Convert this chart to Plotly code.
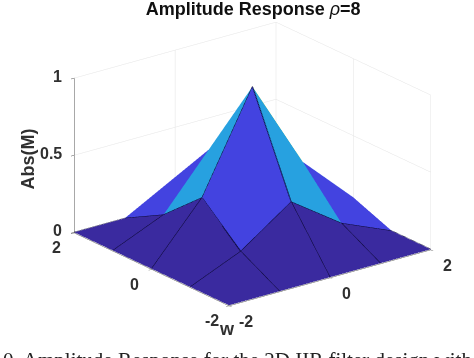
import plotly.graph_objects as go

x_values = [-2, -1, 0, 1, 2]
y_values = [-2, -1, 0, 1, 2]
# z_rows[a][b]: a indexes y, b indexes x
z_rows = [
    [0, 0, 0, 0, 0],
    [0, 0.14, 0.37, 0.14, 0],
    [0, 0.37, 1.0, 0.42, 0.10],
    [0, 0.14, 0.50, 0.14, 0.14],
    [0, 0, 0.11, 0.08, 0],
]
xy_ticks = [-2, 0, 2]
z_ticks = [0, 0.5, 1]
title_text = "<b>Amplitude Response </b><i>ρ</i><b>=8</b>"
caption = "0. Amplitude Response for the 2D IIR filter design with"
DARK, MID, LIGHT, YELLOW = "#3a2a9f", "#4343e0", "#27a1e0", "#f9fb15"
EYE_SCALE = 1.9
BOX = 1.56

def level_colour(v):
    if v < 0.05:
        return DARK
    if v < 0.2:
        return MID
    if v < 0.7:
        return LIGHT
    return YELLOW

n = len(x_values)
idx = lambda a, b: a * n + b
vx, vy, vz = [], [], []
for a in range(n):
    for b in range(n):
        vx.append(x_values[b]); vy.append(y_values[a]); vz.append(z_rows[a][b])
ii, jj, kk, fc = [], [], [], []
for a in range(n - 1):
    for b in range(n - 1):
        c = level_colour(z_rows[a][b])
        if a >= b:
            t = [(idx(a, b), idx(a + 1, b), idx(a, b + 1)), (idx(a + 1, b), idx(a + 1, b + 1), idx(a, b + 1))]
        else:
            t = [(idx(a, b), idx(a + 1, b), idx(a + 1, b + 1)), (idx(a, b), idx(a + 1, b + 1), idx(a, b + 1))]
        for p, q, r in t:
            ii.append(p); jj.append(q); kk.append(r); fc.append(c)

edges = [((a, 0), (a, 1)) for a in range(1, 5)] + [((0, b), (1, b)) for b in range(1, 5)]
edges += [((a, 1), (a + 1, 1)) for a in range(1, 4)] + [((1, b), (1, b + 1)) for b in range(1, 4)]
edges += [((2, 1), (2, 2)), ((1, 2), (2, 2))]
ex, ey, ez = [], [], []
for (a0, b0), (a1, b1) in edges:
    ex += [x_values[b0], x_values[b1], None]
    ey += [y_values[a0], y_values[a1], None]
    ez += [z_rows[a0][b0], z_rows[a1][b1], None]

fig = go.Figure()
fig.add_trace(go.Mesh3d(x=vx, y=vy, z=vz, i=ii, j=jj, k=kk, facecolor=fc, flatshading=True,
                        lighting=dict(ambient=1, diffuse=0, specular=0, roughness=1, fresnel=0),
                        hoverinfo="skip", showscale=False))
fig.add_trace(go.Scatter3d(x=ex, y=ey, z=ez, mode="lines", line=dict(color="#0a0833", width=2),
                           hoverinfo="skip", showlegend=False))

def axis(ticks, rng):
    return dict(range=rng, tickvals=ticks, showticklabels=False, title=dict(text=""),
                showgrid=True, gridcolor="#e4e4e4", gridwidth=1, showline=True, linecolor="#505050",
                linewidth=1, ticks="outside", ticklen=4, tickcolor="#505050", zeroline=False,
                showbackground=False, showspikes=False, mirror=False)

tick_font = dict(family="Liberation Sans", size=16, color="#303030")
w_font = dict(family="Liberation Sans", size=18, color="#303030")
label_font = dict(family="Liberation Sans", size=18, color="#303030")
def note(x, y, z, text, dx, dy, font=tick_font, angle=0, anchor="center"):
    return dict(x=x, y=y, z=z, text=text, showarrow=False, xshift=dx, yshift=dy, font=font,
                textangle=angle, xanchor=anchor)

notes = []
for t in xy_ticks:
    notes.append(note(t, -2, 0, f"<b>{t}</b>", 17, -16))
    notes.append(note(-2, t, 0, f"<b>{t}</b>", -17, -15))
for t in z_ticks:
    notes.append(note(-2, 2, t, f"<b>{t}</b>", -10, 2, anchor="right"))
notes.append(note(-2, -2, 0, "<b>w</b>", -2, -24, w_font))
notes.append(note(-2, 2, 0.5, "<b>Abs(M)</b>", -46, -3, label_font, -90))

fig.update_layout(
    width=474, height=358, margin=dict(l=0, r=0, t=0, b=0), paper_bgcolor="white", showlegend=False,
    title=dict(text=title_text, x=0.534, xanchor="center", y=0.975, yanchor="middle",
               font=dict(family="Liberation Sans", size=18, color="#101010")),
    scene=dict(
        domain=dict(x=[0.0669, 0.9969], y=[0.086, 0.996]),
        xaxis=axis(xy_ticks, [-2, 2]),
        yaxis=axis(xy_ticks, [-2, 2]),
        zaxis=axis(z_ticks, [-0.004, 1]),
        aspectmode="manual", aspectratio=dict(x=BOX, y=BOX, z=0.653 * BOX),
        annotations=notes,
        camera=dict(projection=dict(type="orthographic"), up=dict(x=0, y=0, z=1), center=dict(x=0, y=0, z=0),
                    eye=dict(x=-0.5677 * EYE_SCALE, y=-0.7398 * EYE_SCALE, z=0.3616 * EYE_SCALE)),
    ),
    annotations=[dict(text=caption, xref="paper", yref="paper", x=0.5, y=0.0335, xanchor="center", yanchor="top",
                      showarrow=False, font=dict(family="Liberation Serif", size=21, color="#222222"))],
)
fig.write_html("out.html", post_script="document.body.style.margin='0';", config={"displayModeBar": False})
